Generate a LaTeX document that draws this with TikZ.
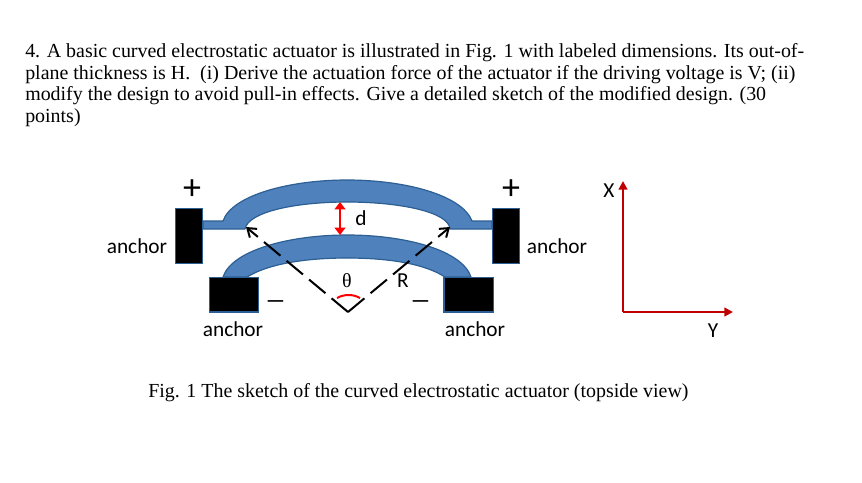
\documentclass[tikz,border=0pt]{standalone}
\usepackage{fontspec}
\setmainfont{Liberation Serif}
\newfontfamily\carlitofont{Carlito}
\usetikzlibrary{arrows.meta}
\definecolor{beamfill}{HTML}{4F81BD}
\definecolor{beamline}{HTML}{2C5F93}
\definecolor{axisred}{HTML}{C00000}
\tikzset{
  prose/.style={anchor=base west,inner sep=0pt,font=\fontsize{14.95}{15}\selectfont},
  lab/.style={inner sep=0pt,font=\carlitofont\fontsize{16}{16}\selectfont},
  sign/.style={inner sep=0pt,font=\carlitofont\fontsize{27}{27}\selectfont},
  minussign/.style={inner sep=0pt,anchor=base,font=\fontsize{25}{25}\selectfont},
  beam/.style={fill=beamfill,draw=beamline,line width=0.9pt,line join=round},
  block/.style={fill=black,draw=beamline,line width=1pt,inner sep=0pt,outer sep=0pt},
  tallblock/.style={block,minimum width=20.5pt,minimum height=41.5pt},
  wideblock/.style={block,minimum width=37pt,minimum height=26pt},
  radius line/.style={draw=black,line width=1.5pt,dash pattern=on 16pt off 6pt,-{Straight Barb[length=6pt,width=8.5pt,line width=1.5pt]}},
  axis/.style={draw=axisred,line width=1.6pt,-{Triangle[length=6.5pt,width=6.5pt]}},
  gaparrow/.style={draw=red,line width=2pt,{Triangle[length=5.5pt,width=8pt]}-{Triangle[length=5.5pt,width=8pt]}}
}
\begin{document}
\begin{tikzpicture}[x=0.75pt,y=-0.75pt]
\path[use as bounding box,fill=white] (0,0) rectangle (862,482);
% question text
\node[prose] (q1) at (25,57) {4. A basic curved electrostatic actuator is illustrated in Fig. 1 with labeled dimensions. Its out-of-};
\node[prose] (q2) at (25,79) {plane thickness is H.\ \ (i) Derive the actuation force of the actuator if the driving voltage is V; (ii)};
\node[prose] (q3) at (25,100) {modify the design to avoid pull-in effects. Give a detailed sketch of the modified design. (30};
\node[prose] (q4) at (25,122) {points)};
\node[prose] (cap) at (148,397) {Fig. 1 The sketch of the curved electrostatic actuator (topside view)};
% upper movable beam with stems
\path[beam] (203,221) -- (223,221) .. controls (232,195) and (290,180) .. (347,180)
  .. controls (405,180) and (462,195) .. (472,221) -- (492,221) -- (492,229) -- (450,229)
  .. controls (449,212) and (400,202) .. (347,202)
  .. controls (295,202) and (248,212) .. (245,229) -- (203,229) -- cycle;
% lower fixed beam
\path[beam] (223,277) .. controls (232,250) and (290,235) .. (347,235)
  .. controls (405,235) and (462,250) .. (471,277) -- (445,277)
  .. controls (425,264) and (390,258) .. (347,258)
  .. controls (305,258) and (268,264) .. (247,277) -- cycle;
% anchors
\node[tallblock] (bl) at (189,236) {};
\node[tallblock] (br) at (506,236) {};
\node[wideblock] (al) at (234,294.5) {};
\node[wideblock] (ar) at (468.5,294.5) {};
% radii and angle
\coordinate (apex) at (348,312);
\coordinate (tl) at (246,227);
\coordinate (tr) at (450,227);
\draw[radius line] (apex) -- (tl);
\draw[radius line] (apex) -- (tr);
\coordinate (al1) at (337,298);
\coordinate (al2) at (360,298);
\draw[red,line width=1.5pt] (al1) .. controls (344,294) and (353,294) .. (al2);
% gap arrow
\coordinate (g1) at (340,202);
\coordinate (g2) at (340,235);
\draw[gaparrow] (g1) -- (g2);
% labels
\node[lab] (d) at (361,218) {d};
\node[lab] (R) at (403,281) {R};
\node[inner sep=0pt,font=\fontsize{15}{15}\selectfont] (th) at (347,281) {θ};
\node[lab] (a1) at (137,246) {anchor};
\node[lab] (a2) at (557,246) {anchor};
\node[lab] (a3) at (233,329) {anchor};
\node[lab] (a4) at (475,329) {anchor};
\node[sign] (p1) at (192,190) {+};
\node[sign] (p2) at (511,190) {+};
\node[minussign] (m1) at (275.5,312) {−};
\node[minussign] (m2) at (420.5,312) {−};
% axes
\coordinate (o) at (623,312);
\coordinate (xe) at (623,181);
\coordinate (ye) at (733,312);
\draw[axis] (o) -- (xe);
\draw[axis] (o) -- (ye);
\node[lab] (X) at (609,191) {X};
\node[lab] (Y) at (713,331) {Y};
\end{tikzpicture}
\end{document}
